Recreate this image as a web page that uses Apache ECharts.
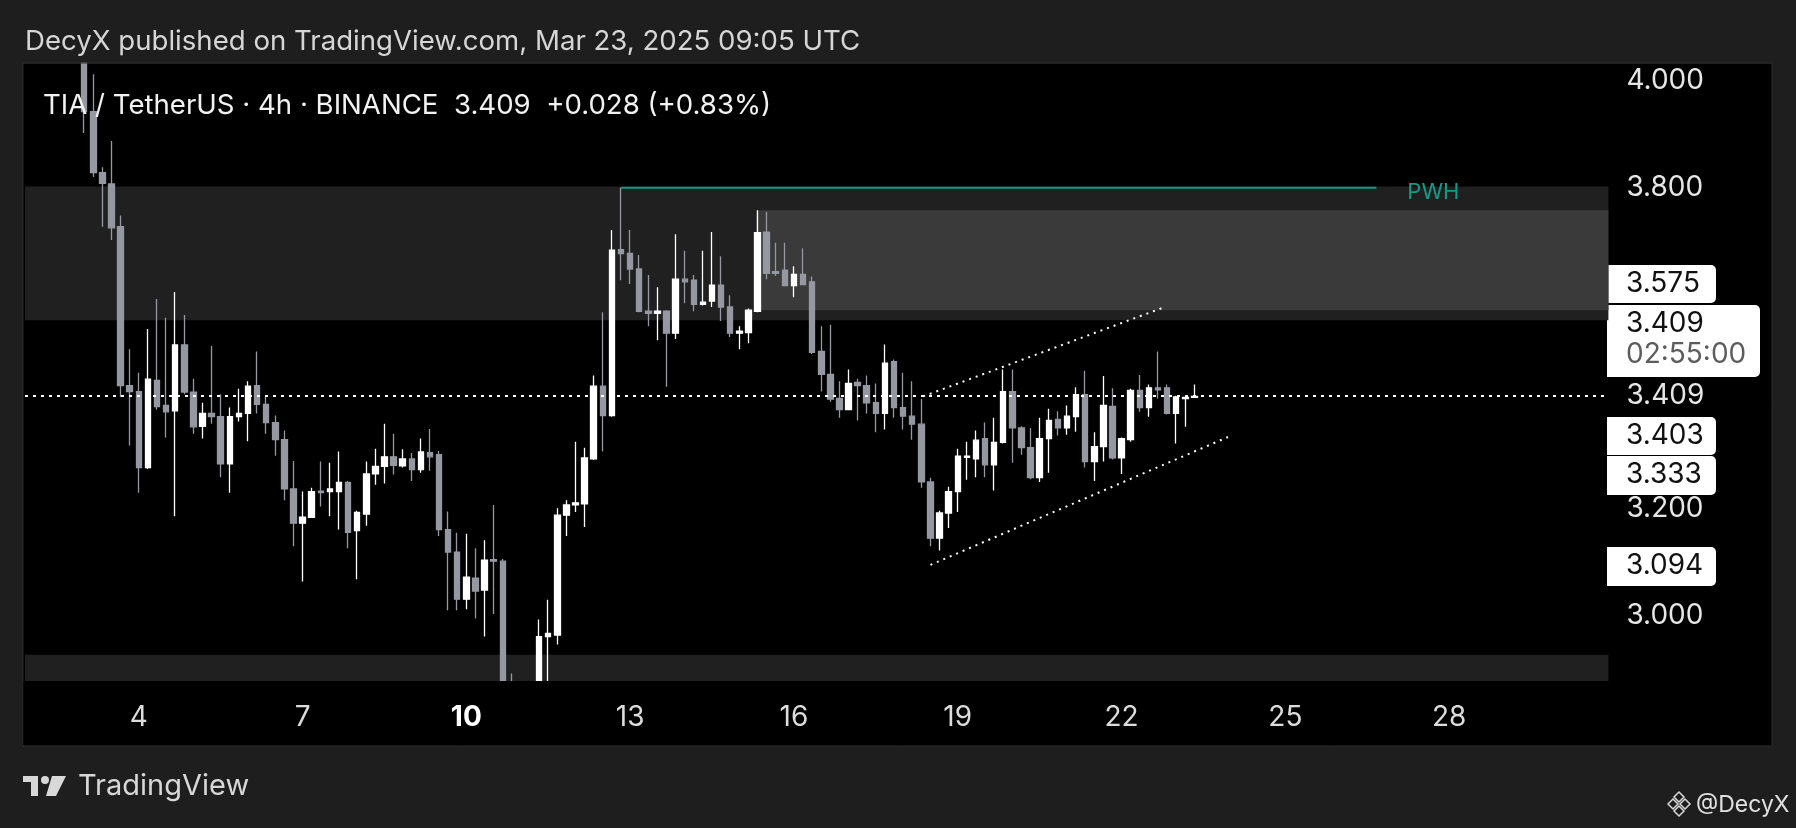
<!DOCTYPE html>
<html><head><meta charset="utf-8">
<script src="https://cdn.jsdelivr.net/npm/echarts@6/dist/echarts.min.js"></script>
<style>html,body{margin:0;padding:0;background:#1e1e1e;}#c{width:1796px;height:828px;}</style>
</head><body><div id="c"></div>
<script>
// ---- data ----
const slotCount = 174;              // 4h slots from Mar 2 00:00 UTC
const firstCandleSlot = 6;          // first candle: Mar 3 00:00
const opens = [4.090,3.941,3.827,3.806,3.726,3.429,3.418,3.276,3.439,3.392,3.382,3.505,3.417,3.353,3.377,3.371,3.283,3.371,3.377,3.429,3.394,3.360,3.328,3.236,3.172,3.183,3.232,3.231,3.231,3.248,3.158,3.189,3.264,3.278,3.296,3.279,3.292,3.272,3.304,3.300,3.160,3.118,3.030,3.069,3.047,3.104,3.101,2.840,2.830,2.810,2.840,2.960,2.963,3.187,3.206,3.208,3.292,3.428,3.373,3.683,3.676,3.647,3.568,3.564,3.568,3.527,3.628,3.626,3.581,3.587,3.617,3.576,3.527,3.528,3.568,3.716,3.642,3.645,3.616,3.637,3.623,3.493,3.450,3.405,3.384,3.435,3.429,3.397,3.377,3.474,3.388,3.372,3.357,3.249,3.144,3.191,3.231,3.295,3.292,3.330,3.281,3.323,3.418,3.350,3.313,3.257,3.330,3.366,3.350,3.371,3.412,3.287,3.315,3.390,3.294,3.328,3.420,3.388,3.425,3.425,3.377,3.405,3.407];
const highs = [4.120,4.011,3.837,3.886,3.747,3.497,3.453,3.535,3.591,3.556,3.604,3.561,3.442,3.397,3.503,3.413,3.388,3.423,3.437,3.493,3.408,3.373,3.345,3.288,3.231,3.238,3.287,3.285,3.306,3.251,3.195,3.287,3.311,3.358,3.339,3.310,3.303,3.330,3.348,3.307,3.194,3.154,3.152,3.125,3.140,3.206,3.105,2.891,2.870,2.860,2.992,3.029,3.200,3.215,3.324,3.313,3.448,3.566,3.720,3.799,3.720,3.673,3.636,3.613,3.570,3.712,3.681,3.636,3.681,3.716,3.671,3.598,3.540,3.573,3.757,3.754,3.696,3.696,3.652,3.686,3.633,3.540,3.543,3.437,3.459,3.442,3.448,3.433,3.506,3.478,3.453,3.437,3.404,3.257,3.195,3.240,3.311,3.324,3.345,3.360,3.369,3.459,3.459,3.353,3.350,3.369,3.386,3.381,3.392,3.426,3.457,3.342,3.447,3.424,3.332,3.423,3.449,3.431,3.493,3.431,3.410,3.408,3.431];
const lows = [3.901,3.819,3.726,3.701,3.408,3.317,3.229,3.273,3.384,3.332,3.185,3.413,3.339,3.330,3.358,3.258,3.229,3.362,3.325,3.377,3.339,3.298,3.215,3.129,3.063,3.182,3.203,3.185,3.160,3.125,3.067,3.167,3.244,3.246,3.263,3.276,3.251,3.266,3.270,3.148,3.009,3.009,3.011,2.994,2.960,3.002,2.800,2.780,2.760,2.740,2.830,2.860,2.945,3.148,3.193,3.165,3.290,3.306,3.371,3.626,3.619,3.566,3.540,3.514,3.427,3.516,3.583,3.568,3.579,3.576,3.550,3.520,3.497,3.508,3.566,3.628,3.634,3.616,3.594,3.617,3.488,3.418,3.399,3.369,3.383,3.364,3.377,3.342,3.347,3.369,3.347,3.328,3.238,3.129,3.121,3.163,3.193,3.253,3.258,3.258,3.233,3.321,3.285,3.300,3.254,3.249,3.266,3.336,3.337,3.343,3.276,3.251,3.287,3.291,3.264,3.324,3.380,3.371,3.405,3.375,3.321,3.352,3.406];
const closes = [3.941,3.827,3.807,3.724,3.429,3.418,3.276,3.441,3.390,3.380,3.505,3.417,3.352,3.377,3.371,3.283,3.371,3.377,3.428,3.394,3.360,3.328,3.236,3.172,3.183,3.231,3.229,3.236,3.248,3.155,3.192,3.264,3.278,3.296,3.280,3.292,3.272,3.305,3.296,3.160,3.118,3.030,3.071,3.045,3.103,3.101,2.840,2.830,2.810,2.840,2.960,2.966,3.187,3.206,3.210,3.294,3.428,3.373,3.682,3.676,3.647,3.568,3.564,3.568,3.527,3.628,3.623,3.581,3.585,3.617,3.576,3.527,3.531,3.570,3.715,3.639,3.639,3.616,3.637,3.618,3.491,3.450,3.404,3.384,3.433,3.429,3.397,3.377,3.471,3.388,3.372,3.357,3.249,3.144,3.191,3.231,3.297,3.297,3.327,3.281,3.323,3.418,3.350,3.313,3.257,3.330,3.364,3.350,3.372,3.412,3.287,3.315,3.392,3.294,3.330,3.420,3.388,3.425,3.421,3.377,3.408,3.407,3.409];
const dayTicks = [4, 7, 10, 13, 16, 19, 22, 25, 28];
const boldDays = [10];
const yLabelValues = [3.0, 3.2, 3.8, 4.0];
const currentPrice = 3.409;
const pwhLine = [[65, 3.799], [148, 3.799]];
const upperTrend = [[98.2, 3.409], [124.6, 3.575]];
const lowerTrend = [[99.0, 3.094], [131.7, 3.333]];
const upperZone = [3.551, 3.801];
const orderBlock = {startSlot: 79.83, low: 3.570, high: 3.757};
const lowerZone = [2.70, 2.926];
const tagTexts = ['3.575', '3.403', '3.333', '3.094'];
const currentTag = ['3.409', '02:55:00'];
const headerText = 'DecyX published on TradingView.com, Mar 23, 2025 09:05 UTC';
const symbolText = 'TIA / TetherUS · 4h · BINANCE  3.409  +0.028 (+0.83%)';

// ---- build ----
const slotLabels = [];
const base = Date.UTC(2025, 2, 2);
for (let i = 0; i < slotCount; i++) {
  const d = new Date(base + i * 4 * 3600e3);
  slotLabels.push(d.getUTCDate() + ' ' + String(d.getUTCHours()).padStart(2, '0'));
}
const candleData = [];
for (let i = 0; i < firstCandleSlot; i++) candleData.push('-');
for (let k = 0; k < opens.length; k++) candleData.push([opens[k], closes[k], lows[k], highs[k]]);

const isTick = (idx, val) => { const p = val.split(' '); return p[1] === '00' && dayTicks.includes(+p[0]); };
const FONT = 'Inter, "Noto Sans", sans-serif';
const FS = 28;
const SLOT = 9.1, LEFT = 25, TOP = 63, H = 618;

const chart = echarts.init(document.getElementById('c'), null, {renderer: 'canvas'});

function tagBox(y, h, w, lines) {
  const children = [{type: 'rect', shape: {x: 1607, y: y, width: w, height: h, r: [0, 5, 5, 0]}, style: {fill: '#ffffff'}}];
  lines.forEach(l => children.push({type: 'text', style: {text: l.t, x: 1626, y: l.y, fill: l.c || '#111', fontSize: FS, fontFamily: FONT, verticalAlign: 'middle'}}));
  return {type: 'group', z: 200, children};
}

const option = {
  backgroundColor: '#1e1e1e',
  animation: false,
  grid: {left: LEFT, top: TOP, width: slotCount * SLOT, height: H},
  xAxis: [
    {type: 'category', data: slotLabels, boundaryGap: true, z: 20,
     axisLine: {show: false}, axisTick: {show: false}, splitLine: {show: false},
     axisLabel: {interval: isTick, margin: 23, color: '#dcdcdc', fontSize: FS, fontFamily: FONT,
       formatter: v => { const d = +v.split(' ')[0]; return boldDays.includes(d) ? '{b|' + d + '}' : String(d); },
       rich: {b: {fontWeight: 'bold', color: '#ffffff', fontSize: FS, fontFamily: FONT}}}},
    {type: 'value', min: -0.5, max: slotCount - 0.5, show: false}
  ],
  yAxis: {type: 'value', position: 'right', min: 2.877, max: 4.032, scale: true,
    axisLine: {show: false}, axisTick: {show: false}, splitLine: {show: false},
    axisLabel: {customValues: yLabelValues, formatter: v => v.toFixed(3), color: '#e6e6e6', fontSize: FS, fontFamily: FONT, margin: 18}},
  series: [
    {type: 'line', xAxisIndex: 1, data: pwhLine, symbol: 'none', silent: true, z: 3,
     lineStyle: {color: '#0f9a84', width: 2},
     endLabel: {show: true, formatter: 'PWH', color: '#129b86', fontSize: 22, fontFamily: FONT, distance: 31, offset: [0, 5]},
     markArea: {silent: true, label: {show: false},
       data: [
         [{yAxis: upperZone[1], itemStyle: {color: '#202020'}}, {yAxis: upperZone[0]}],
         [{xAxis: orderBlock.startSlot, yAxis: orderBlock.high, itemStyle: {color: '#3a3a3a'}}, {yAxis: orderBlock.low}],
         [{yAxis: lowerZone[1], itemStyle: {color: '#202020'}}, {yAxis: lowerZone[0]}]
       ]}},
    {type: 'candlestick', xAxisIndex: 0, data: candleData, barWidth: 6, silent: true, z: 4, clip: true,
     itemStyle: {color: '#ffffff', color0: '#9598a1', borderColor: '#ffffff', borderColor0: '#9598a1', borderWidth: 1.3},
     markLine: {silent: true, symbol: 'none',
       lineStyle: {color: '#ffffff', type: [3, 5], width: 2},
       label: {show: true, position: 'end', formatter: currentPrice.toFixed(3), color: '#e6e6e6', fontSize: FS, fontFamily: FONT, distance: 18},
       data: [{yAxis: currentPrice}]}},
    {type: 'line', xAxisIndex: 1, data: upperTrend, symbol: 'none', silent: true, z: 5,
     lineStyle: {color: '#ffffff', width: 2, type: [2, 5]}},
    {type: 'line', xAxisIndex: 1, data: lowerTrend, symbol: 'none', silent: true, z: 5,
     lineStyle: {color: '#ffffff', width: 2, type: [2, 5]}}
  ],
  graphic: [
    {type: 'rect', z: -100, shape: {x: 23, y: 63, width: 1749, height: 683}, style: {fill: '#000000', stroke: '#2c2c2c', lineWidth: 1}},
    // covers that keep out-of-range candle parts inside the plot window
    {type: 'rect', z: 10, silent: true, shape: {x: 0, y: 0, width: 1796, height: 62.5}, style: {fill: '#1e1e1e'}},
    {type: 'line', z: 11, silent: true, shape: {x1: 23, y1: 63, x2: 1772, y2: 63}, style: {stroke: '#2c2c2c', lineWidth: 1}},
    {type: 'rect', z: 10, silent: true, shape: {x: 23.5, y: 681, width: 1580, height: 64}, style: {fill: '#000000'}},
    {type: 'text', z: 100, style: {text: headerText, x: 25, y: 42, fill: '#d6d6d6', fontSize: 27.6, fontFamily: FONT, verticalAlign: 'middle'}},
    {type: 'text', z: 100, style: {text: symbolText, x: 43, y: 106, fill: '#f2f2f2', fontSize: 27.6, fontFamily: FONT, verticalAlign: 'middle'}},
    tagBox(265, 38, 109, [{t: tagTexts[0], y: 284}]),
    tagBox(305, 72, 153, [{t: currentTag[0], y: 324}, {t: currentTag[1], y: 355, c: '#5c5c5c'}]),
    tagBox(417, 38, 109, [{t: tagTexts[1], y: 436}]),
    tagBox(456, 39, 109, [{t: tagTexts[2], y: 475}]),
    tagBox(547, 39, 109, [{t: tagTexts[3], y: 566}]),
    // TradingView logo
    {type: 'group', z: 100, children: [
      {type: 'rect', shape: {x: 23, y: 776, width: 15, height: 6}, style: {fill: '#d8d8d8'}},
      {type: 'rect', shape: {x: 31, y: 776, width: 7, height: 20}, style: {fill: '#d8d8d8'}},
      {type: 'circle', shape: {cx: 45, cy: 780, r: 4}, style: {fill: '#d8d8d8'}},
      {type: 'polygon', shape: {points: [[52, 776], [66, 776], [56, 796], [46, 796]]}, style: {fill: '#d8d8d8'}}
    ]},
    {type: 'text', z: 100, style: {text: 'TradingView', x: 78, y: 786, fill: '#d8d8d8', fontSize: 29, fontFamily: FONT, verticalAlign: 'middle'}},
    {type: 'group', z: 100, children: [
      {type: 'polygon', shape: {points: [[1679, 792], [1684, 797], [1679, 802], [1674, 797]]}, style: {fill: 'none', stroke: '#d8d8d8', lineWidth: 1.5}},
      {type: 'polygon', shape: {points: [[1673, 799], [1678, 804], [1673, 809], [1668, 804]]}, style: {fill: 'none', stroke: '#d8d8d8', lineWidth: 1.5}},
      {type: 'polygon', shape: {points: [[1685, 799], [1690, 804], [1685, 809], [1680, 804]]}, style: {fill: 'none', stroke: '#d8d8d8', lineWidth: 1.5}},
      {type: 'polygon', shape: {points: [[1679, 806], [1684, 811], [1679, 816], [1674, 811]]}, style: {fill: 'none', stroke: '#d8d8d8', lineWidth: 1.5}}
    ]},
    {type: 'text', z: 100, style: {text: '@DecyX', x: 1696, y: 805, fill: '#e0e0e0', fontSize: 23, fontFamily: FONT, verticalAlign: 'middle'}}
  ]
};
chart.setOption(option);
</script>
</body></html>
